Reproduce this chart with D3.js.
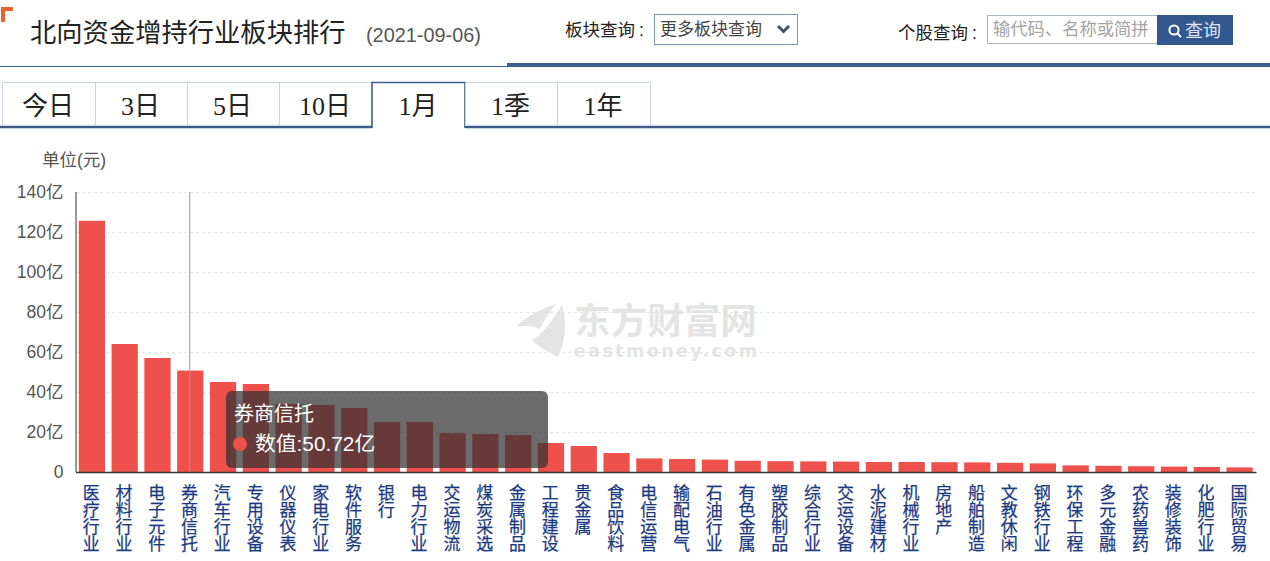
<!DOCTYPE html>
<html lang="zh">
<head>
<meta charset="utf-8">
<title>北向资金增持行业板块排行</title>
<script src="https://cdn.jsdelivr.net/npm/d3@7/dist/d3.min.js"></script>
<style>
  html, body { margin: 0; padding: 0; background: #fff; overflow: hidden; }
  svg { display: block; }
  text { font-family: "Liberation Sans", "Noto Sans CJK SC", sans-serif; }
  .serif { font-family: "Liberation Serif", "Noto Sans CJK SC", serif; }
</style>
</head>
<body>
<svg id="chart" width="1270" height="561"></svg>
<script>
// 行业板块名称(按增持金额排序)
const categories = ["医疗行业","材料行业","电子元件","券商信托","汽车行业","专用设备","仪器仪表","家电行业","软件服务","银行","电力行业","交运物流","煤炭采选","金属制品","工程建设","贵金属","食品饮料","电信运营","输配电气","石油行业","有色金属","塑胶制品","综合行业","交运设备","水泥建材","机械行业","房地产","船舶制造","文教休闲","钢铁行业","环保工程","多元金融","农药兽药","装修装饰","化肥行业","国际贸易"];
// 增持金额,单位:亿元
const values = [125.6,64,57,50.72,45,44,34,33.5,32,25,25,19.5,19,18.5,14.5,13,9.5,6.8,6.5,6.2,5.6,5.4,5.3,5.2,5,5,4.9,4.8,4.6,4.3,3.3,3.1,2.9,2.7,2.5,2.3];
const yTicks = [0,20,40,60,80,100,120,140];
const tabs = ["今日","3日","5日","10日","1月","1季","1年"];
const tabEdges = [2,95,187,279,372,465,557,650];
const activeTab = "1月";
const focusCategory = "券商信托";

const NAVY = "#3d5d8c", BAR = "#ee514b", LABEL = "#1c3a82", WATERMARK = "#e4e4e4";
const svg = d3.select("#chart");

// 页头:标题、日期与查询控件
const header = svg.append("g");
header.append("path").attr("d","M1 7V22H5V11H13V7Z").attr("fill","#e8642c");
header.append("text").attr("x",30).attr("y",42).attr("font-size",26.3).attr("fill","#222").text("北向资金增持行业板块排行");
header.append("text").attr("x",366).attr("y",42).attr("font-size",19.9).attr("fill","#555").text("(2021-09-06)");
header.append("line").attr("x1",0).attr("x2",507).attr("y1",66.5).attr("y2",66.5).attr("stroke",NAVY).attr("stroke-width",1.2);
header.append("rect").attr("x",507).attr("y",63).attr("width",763).attr("height",4).attr("fill",NAVY);

const caption = (px, py, label) => {
  const t = header.append("text").attr("x",px).attr("y",py).attr("font-size",17.5).attr("fill","#222").text(label);
  t.append("tspan").attr("dx",4).text(":");
};
caption(565,36,"板块查询");
header.append("rect").attr("x",654.5).attr("y",14.5).attr("width",143).attr("height",30).attr("fill","#fff").attr("stroke","#7f97b5");
header.append("text").attr("x",660).attr("y",35).attr("font-size",17).attr("fill","#444").text("更多板块查询");
header.append("path").attr("d","M778 26l5.5 5.5 5.5-5.5").attr("fill","none").attr("stroke","#44506a").attr("stroke-width",3);

caption(898,39,"个股查询");
header.append("rect").attr("x",987.5).attr("y",15.5).attr("width",170).attr("height",28).attr("fill","#fff").attr("stroke","#a9b6c8");
header.append("text").attr("x",993).attr("y",35).attr("font-size",17.3).attr("fill","#a3a3a3").text("输代码、名称或简拼");
header.append("rect").attr("x",1157).attr("y",15).attr("width",76).attr("height",30).attr("fill","#33588f");
header.append("circle").attr("cx",1174).attr("cy",30).attr("r",4.6).attr("fill","none").attr("stroke","#fff").attr("stroke-width",2);
header.append("line").attr("x1",1177.5).attr("y1",33.5).attr("x2",1181).attr("y2",37).attr("stroke","#fff").attr("stroke-width",2);
header.append("text").attr("x",1185).attr("y",37).attr("font-size",18).attr("fill","#dfe6f0").text("查询");

// 周期切换标签
const tabG = svg.append("g");
tabG.append("line").attr("x1",0).attr("x2",1270).attr("y1",127).attr("y2",127).attr("stroke",NAVY).attr("stroke-width",2.4);
tabs.forEach((t, i) => {
  const x0 = tabEdges[i], x1 = tabEdges[i + 1], on = t === activeTab;
  if (on) {
    tabG.append("rect").attr("x",x0).attr("y",82).attr("width",x1 - x0).attr("height",47).attr("fill","#fff");
    tabG.append("path").attr("d",`M${x0} 128V82.5H${x1}V128`).attr("fill","none").attr("stroke",NAVY).attr("stroke-width",1.6);
  } else {
    tabG.append("path").attr("d",`M${x0 + .5} 126V82.5H${x1 + .5}V126`).attr("fill","none").attr("stroke","#c5d3e2");
  }
  tabG.append("text").attr("class","serif").attr("x",(x0 + x1) / 2 - .5).attr("y",115)
    .attr("text-anchor","middle").attr("font-size",26).attr("fill","#222").text(t);
});

// 图表区
const y = d3.scaleLinear().domain([0,140]).range([472,192]);
const x = d3.scaleBand().domain(categories).range([75.5,1256]).paddingInner(0.2).paddingOuter(0.1);
const plotRight = x.range()[1];

svg.append("text").attr("x",42).attr("y",166).attr("font-size",17.5).attr("fill","#555").text("单位(元)");

// 网格线
svg.append("g").selectAll("line").data(yTicks.filter(d => d > 0)).join("line")
  .attr("x1",76).attr("x2",plotRight)
  .attr("y1",d => y(d) + .5).attr("y2",d => y(d) + .5)
  .attr("stroke","#e4e4e4").attr("stroke-dasharray","3 3");

// 水印
const mark = svg.append("g").attr("fill",WATERMARK);
mark.append("path").attr("d","M556 304C540 309 524 318 516 327C526 325 534 326 540 329C544 320 550 311 556 304Z");
mark.append("path").attr("d","M562 305C567 320 566 342 558 357C552 354 540 348 532 340C542 335 553 320 562 305Z");
mark.append("text").attr("x",574).attr("y",334).attr("font-size",36.6).attr("font-weight",700).text("东方财富网");
mark.append("text").attr("x",574).attr("y",357).attr("font-size",17.5).attr("font-weight",700)
  .attr("textLength",183).attr("lengthAdjust","spacing")
  .style("font-family","'DejaVu Sans'").text("eastmoney.com");

// 柱形
svg.append("g").selectAll("rect").data(categories).join("rect")
  .attr("x",d => x(d)).attr("width",x.bandwidth())
  .attr("y",(d,i) => y(values[i])).attr("height",(d,i) => y(0) - y(values[i]))
  .attr("fill",BAR);

// 坐标轴
const yAxis = d3.axisLeft(y).tickValues(yTicks).tickSize(0).tickPadding(12)
  .tickFormat(d => d === 0 ? "0" : d + "亿");
const yG = svg.append("g").attr("transform","translate(75.5,-0.5)").call(yAxis);
yG.select(".domain").attr("stroke","#333").attr("stroke-width",1);
yG.selectAll("text").attr("font-size",17.5).attr("fill","#555")
  .style("font-family","'Liberation Sans','Noto Sans CJK SC',sans-serif");

const xG = svg.append("g").attr("transform","translate(0,472)")
  .call(d3.axisBottom(x).tickSize(0).tickFormat(""));
xG.select(".domain").attr("stroke","#333").attr("stroke-width",1.4);

// 纵排的类目标签
const labels = svg.append("g").selectAll("text").data(categories).join("text")
  .attr("text-anchor","middle").attr("font-size",17).attr("fill",LABEL)
  .attr("stroke",LABEL).attr("stroke-width",0.25);
labels.selectAll("tspan").data(d => Array.from(d).map(c => ({ c, cat: d }))).join("tspan")
  .attr("x",d => x(d.cat) + x.bandwidth() / 2 - .7)
  .attr("y",(d,i) => 499 + i * 16.9)
  .text(d => d.c);

// 悬停指示线与提示框
const fx = x(focusCategory) + x.bandwidth() / 2;
const fv = values[categories.indexOf(focusCategory)];
svg.append("line").attr("x1",fx - .5).attr("x2",fx - .5).attr("y1",y(140)).attr("y2",y(0)).attr("stroke","#999").attr("stroke-width",1);
const tip = svg.append("g");
tip.append("rect").attr("x",226).attr("y",391).attr("width",322).attr("height",77).attr("rx",6)
  .attr("fill","rgb(50,50,50)").attr("fill-opacity",0.72);
tip.append("text").attr("x",234).attr("y",421).attr("font-size",20).attr("fill","#fff").text(focusCategory);
tip.append("circle").attr("cx",240).attr("cy",444).attr("r",7).attr("fill",BAR);
tip.append("text").attr("x",255).attr("y",451).attr("font-size",20.8).attr("fill","#fff").text(`数值:${fv}亿`);
</script>
</body>
</html>
